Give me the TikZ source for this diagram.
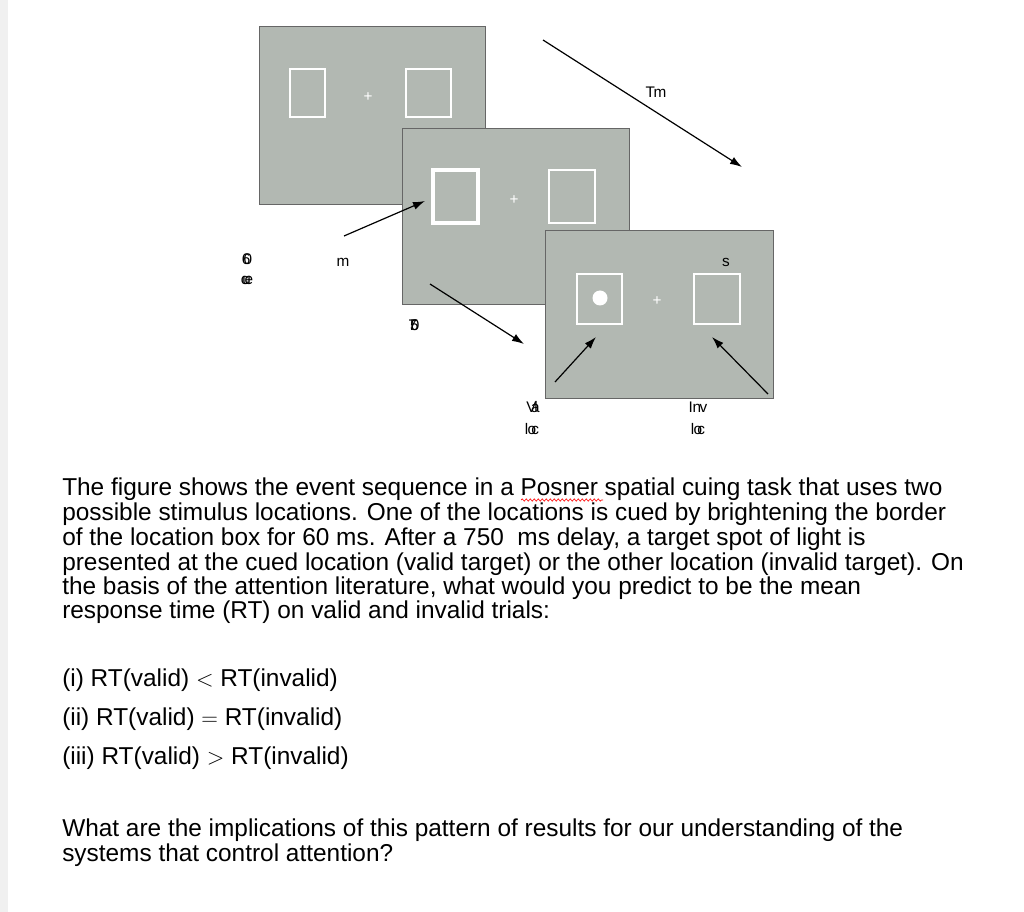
\documentclass[tikz,border=0pt]{standalone}
\usepackage{fontspec}
\setmainfont{Liberation Sans}
\usetikzlibrary{decorations.pathmorphing,arrows.meta}
\definecolor{pan}{RGB}{178,184,178}
\begin{document}
\begin{tikzpicture}[x=0.75pt,y=-0.75pt,
 panel/.style={fill=pan,draw=black!60,line width=0.4pt},
 sq/.style={draw=white,line width=1.6pt},
 arr/.style={-{Latex[length=9pt,width=6pt]},line width=0.9pt},
 lab/.style={font=\fontsize{11.5}{12}\selectfont,inner sep=0pt},
 txt/.style={anchor=base west,inner sep=0pt,font=\fontsize{18.3}{20}\selectfont}]
\useasboundingbox (0,0) rectangle (1024,912);
\fill[black!6] (0,0) rectangle (8,912);
\node[panel,minimum width=226*0.75pt,minimum height=178*0.75pt,anchor=north west] (p1) at (259,26) {};
\draw[sq] (290,69) rectangle (325,117);
\draw[sq] (406,69) rectangle (451,117);
\node[lab,white] (c1) at (368,97) {+};
\node[panel,minimum width=227*0.75pt,minimum height=176*0.75pt,anchor=north west] (p2) at (402,128) {};
\draw[sq,line width=3pt] (433,170) rectangle (478,223);
\draw[sq] (549,170) rectangle (595,223);
\node[lab,white] (c2) at (514,200) {+};
\node[panel,minimum width=228*0.75pt,minimum height=168*0.75pt,anchor=north west] (p3) at (545,230) {};
\draw[sq] (577,274) rectangle (622,324);
\fill[white] (600,298) circle (7.5);
\draw[sq] (694,274) rectangle (740,324);
\node[lab,white] (c3) at (657,301) {+};
\coordinate (a1s) at (543,40); \coordinate (a1e) at (742,167);
\coordinate (a2s) at (344,236); \coordinate (a2e) at (425,201);
\coordinate (a3s) at (430,284); \coordinate (a3e) at (524,344);
\coordinate (a4s) at (555,382); \coordinate (a4e) at (596,337);
\coordinate (a5s) at (768,394); \coordinate (a5e) at (712,337);
\foreach \i in {1,...,5}{\draw[arr] (a\i s) -- (a\i e);}
\node[lab] (tm) at (656,92) {T\kern-0.1em m};
\node[lab] (l60) at (247,259) {6\kern-0.45em 0};
\node[lab] (lcue) at (247,280) {c\kern-0.4em u\kern-0.4em e};
\node[lab] (lm) at (343,262) {m};
\node[lab] (l750) at (414,325) {7\kern-0.45em 5\kern-0.5em 0};
\node[lab] (ls) at (726,262) {s};
\node[lab] (lval) at (532,407) {V\kern-0.35em a\kern-0.35em l};
\node[lab] (lloc1) at (532,429) {l\kern-0.05em o\kern-0.3em c};
\node[lab] (linv) at (698,407) {I\kern-0.02em n\kern-0.1em v};
\node[lab] (lloc2) at (698,429) {l\kern-0.05em o\kern-0.3em c};
\node[txt] (t1) at (62,495) {The figure shows the event sequence in a Posner spatial cuing task that uses two};
\node[txt] (t2) at (62,520) {possible stimulus locations. One of the locations is cued by brightening the border};
\node[txt] (t3) at (62,545) {of the location box for 60 ms. After a 750~ ms delay, a target spot of light is};
\node[txt] (t4) at (62,570) {presented at the cued location (valid target) or the other location (invalid target). On};
\node[txt] (t5) at (62,594) {the basis of the attention literature, what would you predict to be the mean};
\node[txt] (t6) at (62,618) {response time (RT) on valid and invalid trials:};
\node[txt] (t7) at (62,686) {(i) RT(valid) $<$ RT(invalid)};
\node[txt] (t8) at (62,725) {(ii) RT(valid) $=$ RT(invalid)};
\node[txt] (t9) at (62,764) {(iii) RT(valid) $>$ RT(invalid)};
\node[txt] (t10) at (62,836) {What are the implications of this pattern of results for our understanding of the};
\node[txt] (t11) at (62,861) {systems that control attention?};
\draw[red,line width=0.5pt,decorate,decoration={snake,amplitude=0.8pt,segment length=3pt}] (521,500) -- (603,500);
\end{tikzpicture}
\end{document}
